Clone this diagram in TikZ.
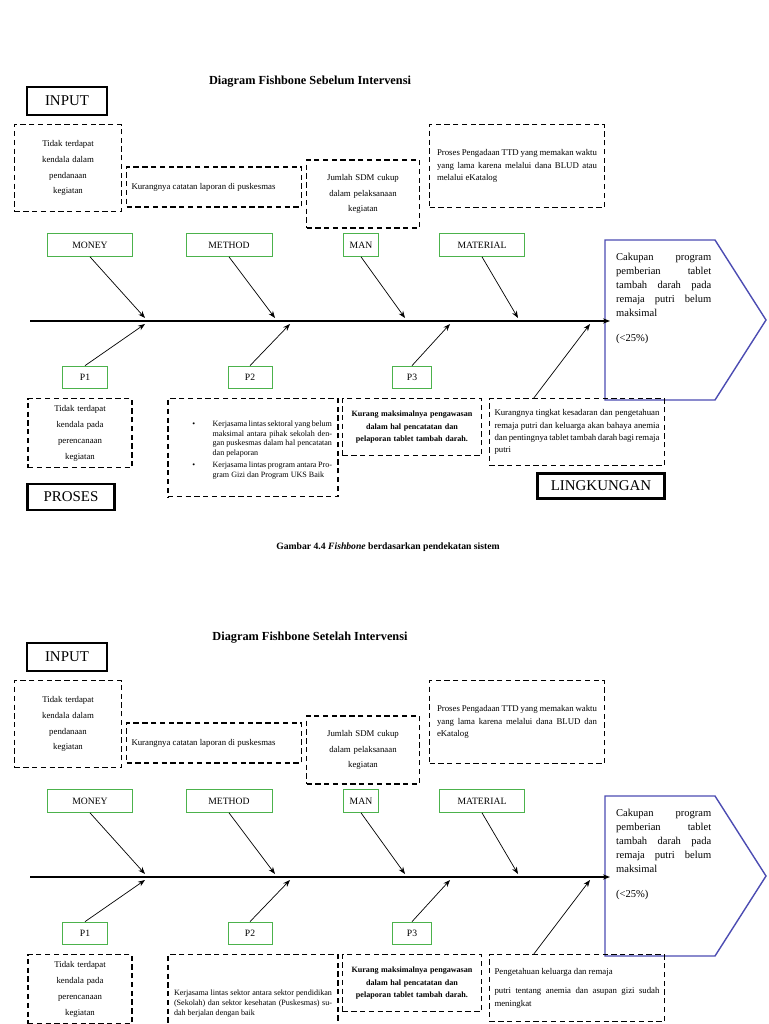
\documentclass[tikz,border=0pt]{standalone}
\usepackage{fontspec}
\setmainfont{Liberation Serif}
\usetikzlibrary{arrows.meta}

\tikzset{
  fbbox/.style = {draw, densely dashed, thick, inner sep=1.5pt, font=\fontsize{5}{7}\selectfont, align=center},
  catbox/.style = {draw=green!40!gray, fill=white, font=\fontsize{5.5}{6}\selectfont, inner sep=0pt},
  titlebox/.style = {draw, very thick, font=\fontsize{8.5}{9}\selectfont, inner sep=0pt},
  bone/.style = {-{Stealth[length=4pt]}, thin}
}

% one fishbone: title, material text, p2 text, p3 text, lingkungan text
\newif\ifshowlabels
\newcommand{\fishhalf}[5]{
    \node[font=\bfseries\fontsize{7}{8}\selectfont] (title) at (310,82) {#1};
    \node[titlebox, minimum width=80*0.02cm, minimum height=28*0.02cm] (input) at (67,101) {INPUT};
    \node[fbbox, minimum width=107*0.02cm, minimum height=87*0.02cm, text width=80*0.02cm] (money) at (68,168)
      {Tidak terdapat\\[2pt] kendala dalam\\[2pt] pendanaan\\[2pt] kegiatan};
    \node[fbbox, minimum width=175*0.02cm, minimum height=40*0.02cm, text width=165*0.02cm, align=justify] (method) at (214,187)
      {Kurangnya catatan laporan di puskesmas};
    \node[fbbox, minimum width=113*0.02cm, minimum height=68*0.02cm, text width=100*0.02cm] (man) at (363,194)
      {Jumlah SDM cukup\\[2pt] dalam pelaksanaan\\[2pt] kegiatan};
    \node[fbbox, minimum width=175*0.02cm, minimum height=83*0.02cm, text width=160*0.02cm, align=justify] (material) at (517,166)
      {\baselineskip=10pt #2};
    % kategori
    \node[catbox, minimum width=85*0.02cm, minimum height=23*0.02cm] (cmoney) at (90,245) {MONEY};
    \node[catbox, minimum width=86*0.02cm, minimum height=23*0.02cm] (cmethod) at (229,245) {METHOD};
    \node[catbox, minimum width=35*0.02cm, minimum height=23*0.02cm] (cman) at (361,245) {MAN};
    \node[catbox, minimum width=85*0.02cm, minimum height=23*0.02cm] (cmaterial) at (482,245) {MATERIAL};
    % kepala ikan
    \draw[draw=blue!40!gray, thick] (605,240) -- (715,240) -- (766,320) -- (715,400) -- (605,400) -- cycle;
    \node[font=\fontsize{6}{8}\selectfont, text width=95*0.02cm, align=justify, anchor=north west] (head) at (610,247)
      {Cakupan program pemberian tablet tambah darah pada remaja putri belum maksimal\\[6pt] (<25\%)};
    % tulang utama
    \coordinate (tail) at (30,321);
    \coordinate (mouth) at (610,321);
    \draw[bone, thick] (tail) -- (mouth);
    \coordinate (a1) at (145,318); \coordinate (a2) at (275,318);
    \coordinate (a3) at (405,318); \coordinate (a4) at (518,318);
    \coordinate (b1) at (145,324); \coordinate (b2) at (290,324);
    \coordinate (b3) at (450,324); \coordinate (b4) at (590,324);
    \draw[bone] (cmoney.south) -- (a1);
    \draw[bone] (cmethod.south) -- (a2);
    \draw[bone] (cman.south) -- (a3);
    \draw[bone] (cmaterial.south) -- (a4);
    \node[catbox, minimum width=45*0.02cm, minimum height=22*0.02cm] (p1) at (85,377) {P1};
    \node[catbox, minimum width=44*0.02cm, minimum height=22*0.02cm] (p2) at (250,377) {P2};
    \node[catbox, minimum width=39*0.02cm, minimum height=22*0.02cm] (p3) at (412,377) {P3};
    \draw[bone] (p1.north) -- (b1);
    \draw[bone] (p2.north) -- (b2);
    \draw[bone] (p3.north) -- (b3);
    % proses
    \node[fbbox, minimum width=104*0.02cm, minimum height=69*0.02cm, text width=80*0.02cm, anchor=north] (proses1) at (80,398)
      {Tidak terdapat\\[2pt] kendala pada\\[2pt] perencanaan\\[2pt] kegiatan};
    \node[fbbox, font=\fontsize{4.6}{5.6}\selectfont, minimum width=170*0.02cm, minimum height=98*0.02cm, text width=158*0.02cm, align=justify, anchor=north] (proses2) at (253,398)
      {#3};
    \node[fbbox, font=\bfseries\fontsize{4.6}{7}\selectfont, minimum width=139*0.02cm, minimum height=57*0.02cm, text width=122*0.02cm, anchor=north] (proses3) at (412,398)
      {#4};
    \node[fbbox, minimum width=175*0.02cm, minimum height=67*0.02cm, text width=165*0.02cm, align=justify, anchor=north] (ling) at (577,398)
      {#5};
    \draw[bone] (ling.north west) ++(45*0.02cm,0) -- (b4);
    \ifshowlabels
    \node[titlebox, minimum width=87*0.02cm, minimum height=26*0.02cm] (proses) at (71,497) {PROSES};
    \node[titlebox, minimum width=127*0.02cm, minimum height=25*0.02cm] (lingkungan) at (601,486) {LINGKUNGAN};
    \fi
}

\begin{document}
\begin{tikzpicture}[x=0.02cm, y=-0.02cm]
    \useasboundingbox (0,0) rectangle (768,1024);
    \clip (0,0) rectangle (768,1024);

    \showlabelstrue
    \begin{scope}[name prefix=sebelum-]
      \fishhalf{Diagram Fishbone Sebelum Intervensi}
        {Proses Pengadaan TTD yang memakan waktu yang lama karena melalui dana BLUD atau melalui eKatalog}
        {\begin{list}{\textbullet}{\setlength{\leftmargin}{22pt}\setlength{\itemsep}{1pt}\setlength{\topsep}{0pt}\setlength{\parsep}{0pt}\setlength{\labelsep}{10pt}}
          \item Kerjasama lintas sektoral yang belum maksimal antara pihak sekolah dengan puskesmas dalam hal pencatatan dan pelaporan
          \item Kerjasama lintas program antara Program Gizi dan Program UKS Baik\end{list}}
        {Kurang maksimalnya pengawasan dalam hal pencatatan dan pelaporan tablet tambah darah.}
        {Kurangnya tingkat kesadaran dan pengetahuan remaja putri dan keluarga akan bahaya anemia dan pentingnya tablet tambah darah bagi remaja putri}
    \end{scope}

    \node[font=\fontsize{5.5}{6}\selectfont] (caption) at (388,547)
      {\textbf{Gambar 4.4 \textit{Fishbone} berdasarkan pendekatan sistem}};

    \showlabelsfalse
    \begin{scope}[yshift=-556*0.02cm, name prefix=setelah-]
      \fishhalf{Diagram Fishbone Setelah Intervensi}
        {Proses Pengadaan TTD yang memakan waktu yang lama karena melalui dana BLUD dan eKatalog}
        {Kerjasama lintas sektor antara sektor pendidikan (Sekolah) dan sektor kesehatan (Puskesmas) sudah berjalan dengan baik}
        {Kurang maksimalnya pengawasan dalam hal pencatatan dan pelaporan tablet tambah darah.}
        {Pengetahuan keluarga dan remaja\\[4pt] putri tentang anemia dan asupan gizi sudah meningkat}
    \end{scope}
\end{tikzpicture}
\end{document}
